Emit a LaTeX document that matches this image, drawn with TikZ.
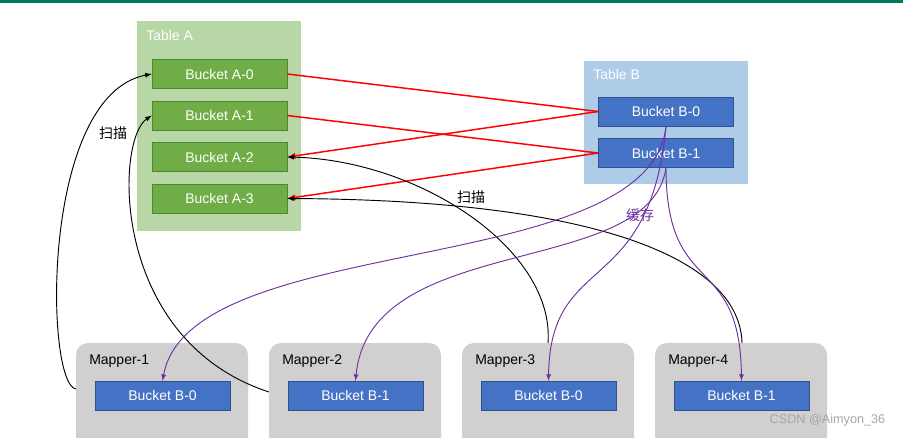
\documentclass[tikz,border=0pt]{standalone}
\usepackage{fontspec}
\setmainfont{Liberation Sans}
\newfontfamily\cjk{Noto Sans CJK SC}
\definecolor{topbar}{RGB}{0,122,94}
\definecolor{tagreen}{RGB}{184,215,166}
\definecolor{tbblue}{RGB}{174,203,232}
\definecolor{bagreen}{RGB}{112,173,71}
\definecolor{badraw}{RGB}{80,135,50}
\definecolor{bbblue}{RGB}{68,114,196}
\definecolor{bbdraw}{RGB}{47,82,143}
\definecolor{mgray}{RGB}{208,208,208}
\definecolor{cpurple}{RGB}{112,48,160}
\begin{document}
\begin{tikzpicture}[x=0.75pt,y=-0.75pt,
 ba/.style={draw=badraw,fill=bagreen,text=white,minimum width=101.25pt,minimum height=21.5pt,inner sep=0pt,font=\fontsize{10.5}{12}\selectfont},
 bb/.style={draw=bbdraw,fill=bbblue,text=white,minimum width=101.25pt,minimum height=21.5pt,inner sep=0pt,font=\fontsize{10.5}{12}\selectfont},
 lab/.style={font=\fontsize{10.5}{12}\selectfont,anchor=west,inner sep=0pt},
 redl/.style={draw=red,line width=1.1pt},
 scan/.style={draw=black,line width=0.7pt,-latex},
 cache/.style={draw=cpurple,line width=0.7pt,-latex}]
\useasboundingbox (0,0) rectangle (903,437);
\fill[topbar] (0,0) rectangle (903,3);
% tables
\fill[tagreen] (137,21) rectangle (301,231);
\node[lab,text=white] (ta) at (146,35) {Table A};
\fill[tbblue] (584,61) rectangle (748,184);
\node[lab,text=white] (tb) at (593,74) {Table B};
\node[ba] (a0) at (219.5,74) {Bucket A-0};
\node[ba] (a1) at (219.5,115.5) {Bucket A-1};
\node[ba] (a2) at (219.5,157) {Bucket A-2};
\node[ba] (a3) at (219.5,198.5) {Bucket A-3};
\node[bb] (b0) at (666,111.5) {Bucket B-0};
\node[bb] (b1) at (666,153) {Bucket B-1};
% mappers
\foreach \i/\x/\b in {1/76/0,2/269/1,3/462/0,4/655/1}{
 \fill[mgray,rounded corners=9pt] (\x,343) rectangle ++(172,110);
 \node[lab] (m\i) at (\x+13,361) {Mapper-\i};
 \node[bb] (mb\i) at (\x+86.5,395.5) {Bucket B-\b};
}
\coordinate (m1l) at (76,389);
\coordinate (m2l) at (269,392);
\coordinate (m3t) at (548,343);
\coordinate (m4t) at (742,343);
% red
\draw[redl] (a0.east) -- (b0.west);
\draw[redl] (a1.east) -- (b1.west);
\draw[redl,-latex] (b0.west) -- (a2.east);
\draw[redl,-latex] (b1.west) -- (a3.east);
% scans
\draw[scan] (m1l) .. controls (45,385) and (40,95) .. (a0.west);
\draw[scan] (m2l) .. controls (110,340) and (115,140) .. (a1.west);
\draw[scan] (m3t) .. controls (555,250) and (420,160) .. (a2.east);
\draw[scan] (m4t) .. controls (740,260) and (600,200) .. (a3.east);
\node[font=\cjk\fontsize{10.5}{12}\selectfont] (s1) at (113,133) {扫描};
\node[font=\cjk\fontsize{10.5}{12}\selectfont] (s2) at (471,197) {扫描};
% cache
\draw[cache] (b0.south) .. controls (650,280) and (190,230) .. (mb1.north);
\draw[cache] (b1.south) .. controls (650,280) and (370,230) .. (mb2.north);
\draw[cache] (b0.south) .. controls (650,300) and (550,250) .. (mb3.north);
\draw[cache] (b1.south) .. controls (666,300) and (740,250) .. (mb4.north);
\node[font=\cjk\fontsize{10.5}{12}\selectfont,text=cpurple] (c) at (640,215) {缓存};
\node[font=\fontsize{9.5}{11}\selectfont,text=gray!70,anchor=east] (wm) at (890,420) {CSDN @Aimyon\_36};
\end{tikzpicture}
\end{document}
